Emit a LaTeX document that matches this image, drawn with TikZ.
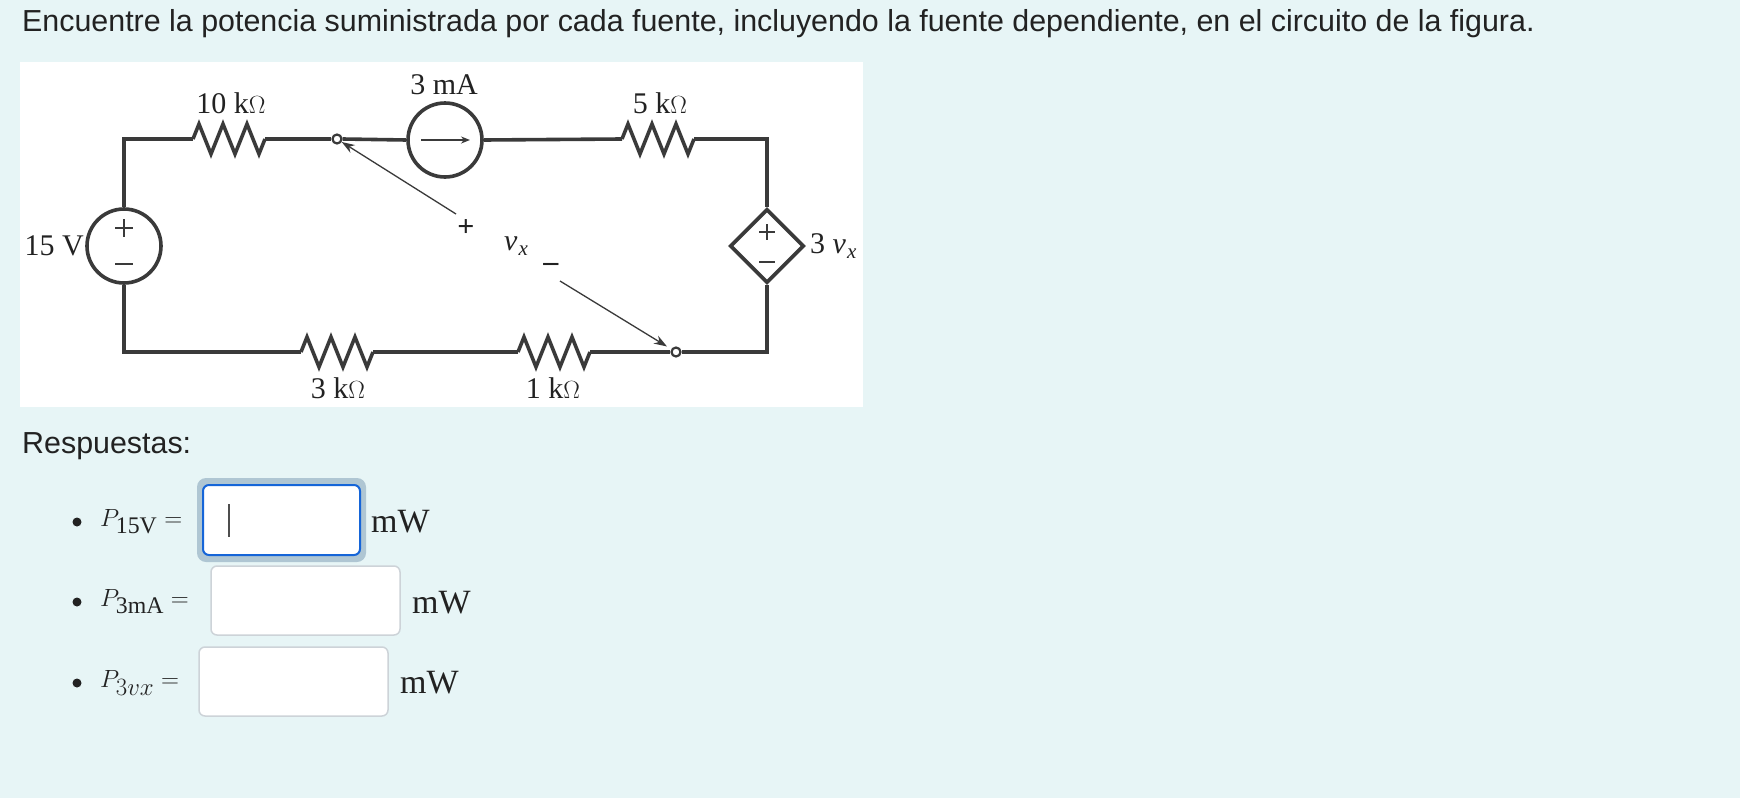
\documentclass[tikz,border=0pt]{standalone}
\usepackage{fontspec}
\setmainfont{Liberation Serif}
\newfontfamily\uisans{Liberation Sans}
\usetikzlibrary{arrows.meta,shapes.geometric}
\definecolor{bg}{HTML}{E7F5F6}
\definecolor{wc}{HTML}{3A3A3A}
\definecolor{tc}{HTML}{222222}
\definecolor{focusblue}{HTML}{1565D8}
\definecolor{glow}{HTML}{AFC6D3}
\definecolor{boxgray}{HTML}{CDD3D8}
\tikzset{
  wire/.style={draw=wc,line width=3.6pt,line join=miter},
  thin arrow/.style={draw=wc,line width=1.3pt,-{Stealth[length=13pt,width=9pt]}},
  clabel/.style={text=tc,font=\fontsize{30}{34}\selectfont,inner sep=0pt},
  term/.style={circle,draw=wc,line width=2.2pt,fill=white,minimum size=9pt,inner sep=0pt},
  ansbox/.style={draw=boxgray,line width=1.5pt,fill=white,rounded corners=6pt},
  ui/.style={text=tc,font=\uisans\fontsize{30.4}{34}\selectfont,inner sep=0pt},
  mathlbl/.style={text=tc,font=\fontsize{34}{38}\selectfont,inner sep=0pt}
}
\newcommand\myres[3]{\draw[wire] (#1,#3) -- ++(6,-15) -- ++(12,30) -- ++(12,-30) -- ++(12,30) -- ++(12,-30) -- ++(12,30) -- ++(6,-15);}
\newcommand\vxtext{\textit{v}\kern1pt\raisebox{-0.35ex}{\fontsize{21}{24}\selectfont\textit{x}}}
\begin{document}
\begin{tikzpicture}[x=1pt,y=-1pt]
\fill[bg] (0,0) rectangle (1740,798);
\useasboundingbox (0,0) rectangle (1740,798);
\node[ui,anchor=west] (title) at (22,24) {Encuentre la potencia suministrada por cada fuente, incluyendo la fuente dependiente, en el circuito de la figura.};
\fill[white] (20,62) rectangle (863,407);
% coordinates
\coordinate (tl) at (124,139); \coordinate (tr) at (767,139);
\coordinate (bl) at (124,352); \coordinate (br) at (767,352);
\node[circle,draw=wc,line width=3.6pt,minimum size=74pt,inner sep=0pt] (vs) at (124,246) {};
\node[circle,draw=wc,line width=3.6pt,minimum size=74pt,inner sep=0pt] (cs) at (445,140) {};
\node[diamond,draw=wc,line width=3.6pt,minimum width=74pt,minimum height=74pt,inner sep=0pt] (ds) at (767,246) {};
\node[term] (ta) at (337,139) {};
\node[term] (tb) at (676,352) {};
% wires
\draw[wire] (vs.north) -- (tl) -- (193,139);
\myres{193}{}{139}
\draw[wire] (265,139) -- (ta.west);
\draw[wire] (ta.east) -- (cs.west);
\draw[wire] (cs.east) -- (622,139);
\myres{622}{}{139}
\draw[wire] (694,139) -- (tr) -- (ds.north);
\draw[wire] (ds.south) -- (br) -- (tb.east);
\draw[wire] (tb.west) -- (590,352);
\myres{518}{}{352}
\draw[wire] (518,352) -- (373,352);
\myres{301}{}{352}
\draw[wire] (301,352) -- (bl) -- (vs.south);
% source symbols
\draw[wc,line width=1.8pt] (124,219) -- (124,237) (115,228) -- (133,228);
\draw[wc,line width=1.8pt] (115,264) -- (133,264);
\draw[wc,line width=1.6pt] (767,224) -- (767,240) (759,232) -- (775,232);
\draw[wc,line width=1.6pt] (759,262) -- (775,262);
\draw[wc,line width=1.6pt,-{Stealth[length=9pt,width=7pt]}] (421,140) -- (470,140);
% labels
\node[clabel] (l10) at (231,103) {10 k$\Omega$};
\node[clabel] (l3ma) at (444,85) {3 mA};
\node[clabel] (l5) at (660,103) {5 k$\Omega$};
\node[clabel] (l3k) at (338,388) {3 k$\Omega$};
\node[clabel] (l1k) at (553,388) {1 k$\Omega$};
\node[clabel,anchor=east] (l15) at (84,246) {15 V};
\node[clabel,anchor=west] (l3vx) at (810,246) {3 \vxtext};
\node[clabel] (plus) at (466,228) {\textbf{+}};
\node[clabel] (vx) at (516,246) {\vxtext};
\node[clabel] (minus) at (551,267) {\textbf{\textendash}};
\coordinate (a1) at (456,214);
\coordinate (a2) at (560,281);
\draw[thin arrow] (a1) -- (ta);
\draw[thin arrow,shorten >=5pt] (a2) -- (tb);
% answers
\node[ui,anchor=west] (resp) at (22,446) {Respuestas:};
\foreach \y in {522,602,683} \fill[tc] (77,\y) circle (4.5pt);
\node[mathlbl,anchor=west] (p1) at (100,522) {$P_{\mathrm{15V}}=$};
\node[mathlbl,anchor=west] (p2) at (100,602) {$P_{\mathrm{3mA}}=$};
\node[mathlbl,anchor=west] (p3) at (100,683) {$P_{3vx}=$};
\fill[glow,rounded corners=9pt] (197,478) rectangle (366,562);
\draw[focusblue,line width=2pt,fill=white,rounded corners=6pt] (203,485) rectangle (360,555);
\draw[tc!80,line width=1.6pt] (229,504) -- (229,537);
\draw[ansbox] (211,566) rectangle (400,635);
\draw[ansbox] (199,647) rectangle (388,716);
\node[mathlbl,anchor=west] (u1) at (371,522) {$\mathrm{mW}$};
\node[mathlbl,anchor=west] (u2) at (412,603) {$\mathrm{mW}$};
\node[mathlbl,anchor=west] (u3) at (400,683) {$\mathrm{mW}$};
\end{tikzpicture}
\end{document}
